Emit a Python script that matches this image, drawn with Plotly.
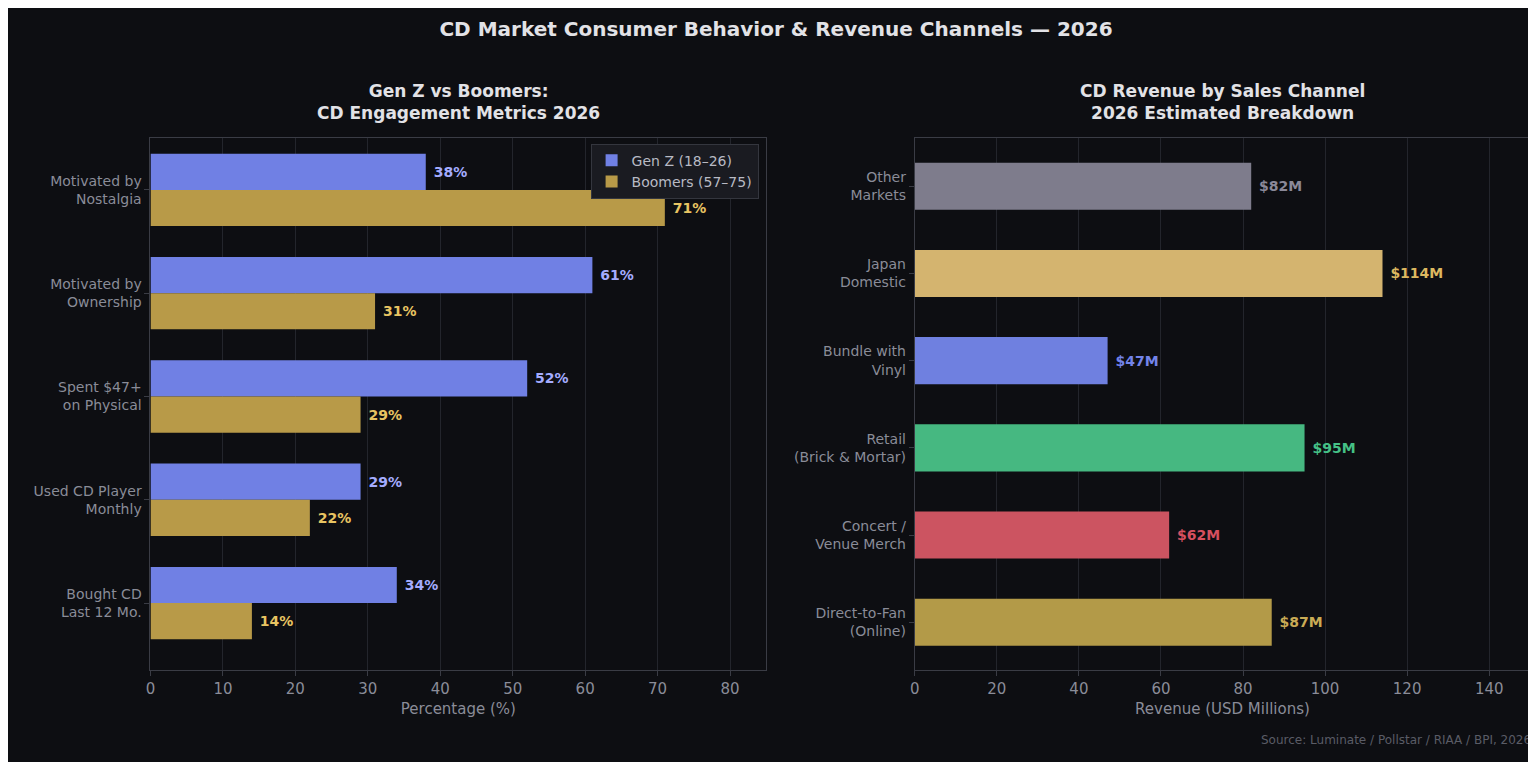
import plotly.graph_objects as go
from plotly.subplots import make_subplots

# left panel data
metrics = ["Bought CD<br>Last 12 Mo.", "Used CD Player<br>Monthly", "Spent $47+<br>on Physical",
           "Motivated by<br>Ownership", "Motivated by<br>Nostalgia"]
gen_z = [34, 29, 52, 61, 38]
boomers = [14, 22, 29, 31, 71]

# right panel data
channels = ["Direct-to-Fan<br>(Online)", "Concert /<br>Venue Merch", "Retail<br>(Brick & Mortar)",
            "Bundle with<br>Vinyl", "Japan<br>Domestic", "Other<br>Markets"]
revenue = [87, 62, 95, 47, 114, 82]
channel_colors = ["#b39a48", "#cc5461", "#46b881", "#6f80e0", "#d4b46f", "#7e7c8c"]
label_colors = ["#c9ab55", "#d6505f", "#45c186", "#7384ea", "#dcb860", "#8a8898"]

BG = "#0d0e12"
GRID = "#23252c"
AXIS = "#3a3c45"
TICK = "#8a8c98"
FONT = "DejaVu Sans"

fig = make_subplots(rows=1, cols=2)

fig.add_trace(go.Bar(
    y=metrics, x=gen_z, orientation="h", name="Gen Z (18–26)",
    marker=dict(color="#7080e4", line=dict(width=0)), width=0.35, offset=0,
    text=[f" {v}%" for v in gen_z], textposition="outside", cliponaxis=False,
    textfont=dict(color="#a4acff", size=14, family=FONT, weight="bold"),
), row=1, col=1)
fig.add_trace(go.Bar(
    y=metrics, x=boomers, orientation="h", name="Boomers (57–75)",
    marker=dict(color="#b89a48", line=dict(width=0)), width=0.35, offset=-0.35,
    text=[f" {v}%" for v in boomers], textposition="outside", cliponaxis=False,
    textfont=dict(color="#e8c462", size=14, family=FONT, weight="bold"),
), row=1, col=1)

fig.add_trace(go.Bar(
    y=channels, x=revenue, orientation="h", showlegend=False,
    marker=dict(color=channel_colors, line=dict(width=0)), width=0.54,
    text=[f" ${v}M" for v in revenue], textposition="outside", cliponaxis=False,
    textfont=dict(color=label_colors, size=14, family=FONT, weight="bold"),
), row=1, col=2)

axis_common = dict(showgrid=True, gridcolor=GRID, showline=True, linecolor=AXIS, mirror=True,
                   ticks="outside", tickcolor=AXIS, tickfont=dict(color=TICK, size=15, family=FONT),
                   zeroline=False)
fig.update_xaxes(**axis_common)
fig.update_yaxes(**axis_common)
fig.update_yaxes(showgrid=False, tickfont=dict(color=TICK, size=14, family=FONT))

fig.update_xaxes(range=[0, 85], dtick=10, domain=[0.0898, 0.492], row=1, col=1,
                 title=dict(text="Percentage (%)", font=dict(color=TICK, size=15, family=FONT), standoff=6))
fig.update_xaxes(range=[0, 150], dtick=20, domain=[0.589, 0.991], row=1, col=2,
                 title=dict(text="Revenue (USD Millions)", font=dict(color=TICK, size=15, family=FONT), standoff=6))
fig.update_yaxes(range=[-0.65, 4.5], domain=[0.131, 0.829], row=1, col=1)
fig.update_yaxes(range=[-0.55, 5.55], domain=[0.131, 0.829], row=1, col=2)

fig.update_layout(
    width=1536, height=762, paper_bgcolor=BG, plot_bgcolor=BG,
    margin=dict(l=0, r=0, t=0, b=0), barmode="overlay",
    font=dict(family=FONT, color=TICK),
    title=dict(text="<b>CD Market Consumer Behavior & Revenue Channels — 2026</b>", x=0.5, y=0.972,
               xanchor="center", yanchor="middle", font=dict(size=20, color="#e2e2e6", family=FONT)),
    legend=dict(x=0.487, y=0.822, xanchor="right", yanchor="top", bgcolor="#1a1b21",
                bordercolor="#34363e", borderwidth=1, font=dict(color="#b8bac4", size=14, family=FONT)),
)

fig.add_annotation(text="<b>Gen Z vs Boomers:<br>CD Engagement Metrics 2026</b>", x=0.291, y=0.876,
                   xref="paper", yref="paper", xanchor="center", yanchor="middle", showarrow=False,
                   font=dict(size=17, color="#e2e2e6", family=FONT))
fig.add_annotation(text="<b>CD Revenue by Sales Channel<br>2026 Estimated Breakdown</b>", x=0.79, y=0.876,
                   xref="paper", yref="paper", xanchor="center", yanchor="middle", showarrow=False,
                   font=dict(size=17, color="#e2e2e6", family=FONT))
fig.add_annotation(text="Source: Luminate / Pollstar / RIAA / BPI, 2026", x=0.993, y=0.027,
                   xref="paper", yref="paper", xanchor="right", showarrow=False,
                   font=dict(size=12, color="#5a5c66", family=FONT))

fig.write_html("out.html")
